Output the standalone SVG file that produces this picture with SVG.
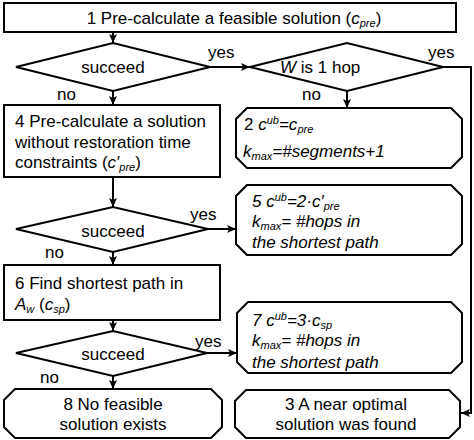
<svg xmlns="http://www.w3.org/2000/svg" width="474" height="440" viewBox="0 0 474 440">
<style>
.b{fill:#fff;stroke:#000;stroke-width:2}
.c{fill:none;stroke:#000;stroke-width:2}
text{font-family:"Liberation Sans",Arial,sans-serif;font-size:17px;fill:#000}
.i{font-style:italic}
.s{font-size:11px}
.m{text-anchor:middle}
</style>
<defs>
<marker id="a" markerUnits="userSpaceOnUse" markerWidth="10" markerHeight="10" refX="9" refY="5" orient="auto">
<path d="M0,1 L9,5 L0,9 L2,5 Z" fill="#000"/>
</marker>
</defs>
<rect width="474" height="440" fill="#fff"/>
<g id="connectors">
<path class="c" d="M113,32 V43" marker-end="url(#a)"/>
<path class="c" d="M210,67 H250" marker-end="url(#a)"/>
<path class="c" d="M443,67 H471 V413 H461" marker-end="url(#a)"/>
<path class="c" d="M113,91 V105" marker-end="url(#a)"/>
<path class="c" d="M347,91 V108" marker-end="url(#a)"/>
<path class="c" d="M113,177 V207" marker-end="url(#a)"/>
<path class="c" d="M208,229 H236" marker-end="url(#a)"/>
<path class="c" d="M113,252 V265" marker-end="url(#a)"/>
<path class="c" d="M113,320 V331" marker-end="url(#a)"/>
<path class="c" d="M207,353 H237" marker-end="url(#a)"/>
<path class="c" d="M113,376 V389" marker-end="url(#a)"/>
<text x="208" y="58">yes</text>
<text x="428" y="58">yes</text>
<text x="57" y="100">no</text>
<text x="302" y="100">no</text>
<text x="190" y="220">yes</text>
<text x="45" y="258">no</text>
<text x="195" y="347">yes</text>
<text x="40" y="383">no</text>
</g>
<g id="n1">
<rect class="b" x="4" y="3" width="452" height="29"/>
<text x="234" y="24" class="m">1 Pre-calculate a feasible solution (<tspan class="i">c</tspan><tspan class="i s" dy="3">pre</tspan><tspan dy="-3">)</tspan></text>
</g>
<g id="d1">
<polygon class="b" points="16,67 113,43 210,67 113,91"/>
<text x="113" y="73" class="m">succeed</text>
</g>
<g id="d2">
<polygon class="b" points="250,67 347,43 443,67 347,91"/>
<text x="280" y="73"><tspan class="i">W</tspan> is 1 hop</text>
</g>
<g id="n4">
<rect class="b" x="4" y="105" width="216" height="72"/>
<text x="15" y="127">4 Pre-calculate a solution</text>
<text x="15" y="148">without restoration time</text>
<text x="15" y="168">constraints  (<tspan class="i">c′</tspan><tspan class="i s" dy="3">pre</tspan><tspan dy="-3">)</tspan></text>
</g>
<g id="n2">
<path class="b" d="M247,108 H451 L462,119 V157 L451,168 H247 L236,157 V119 Z"/>
<text x="244" y="130">2 <tspan class="i">c</tspan><tspan class="i s" dy="-6">ub</tspan><tspan class="i" dy="6">=c</tspan><tspan class="i s" dy="3">pre</tspan></text>
<text x="243" y="157" class="i">k<tspan class="s" dy="3">max</tspan><tspan dy="-3">=#segments+1</tspan></text>
</g>
<g id="d3">
<polygon class="b" points="16,229 113,207 208,229 113,252"/>
<text x="113" y="237" class="m">succeed</text>
</g>
<g id="n5">
<path class="b" d="M247,185 H451 L462,196 V244 L451,255 H247 L236,244 V196 Z"/>
<text x="252" y="207" class="i">5 c<tspan class="s" dy="-6">ub</tspan><tspan dy="6">=2·c′</tspan><tspan class="s" dy="3">pre</tspan></text>
<text x="252" y="227" class="i">k<tspan class="s" dy="3">max</tspan><tspan dy="-3">= #hops in</tspan></text>
<text x="252" y="248" class="i">the shortest path</text>
</g>
<g id="n6">
<rect class="b" x="4" y="265" width="216" height="55"/>
<text x="15" y="289">6  Find shortest path in</text>
<text x="15" y="310"><tspan class="i">A</tspan><tspan class="i s" dy="3">w</tspan><tspan dy="-3">  (</tspan><tspan class="i">c</tspan><tspan class="i s" dy="3">sp</tspan><tspan dy="-3">)</tspan></text>
</g>
<g id="d4">
<polygon class="b" points="16,353 113,331 207,353 113,376"/>
<text x="113" y="360" class="m">succeed</text>
</g>
<g id="n7">
<path class="b" d="M248,302 H451 L462,313 V362 L451,373 H248 L237,362 V313 Z"/>
<text x="252" y="326" class="i">7 c<tspan class="s" dy="-6">ub</tspan><tspan dy="6">=3·c</tspan><tspan class="s" dy="3">sp</tspan></text>
<text x="252" y="346" class="i">k<tspan class="s" dy="3">max</tspan><tspan dy="-3">= #hops in</tspan></text>
<text x="252" y="368" class="i">the shortest path</text>
</g>
<g id="n8">
<path class="b" d="M15,389 H211 L222,400 V427 L211,438 H15 L4,427 V400 Z"/>
<text x="113" y="410" class="m">8 No feasible</text>
<text x="113" y="430" class="m">solution exists</text>
</g>
<g id="n3">
<path class="b" d="M246,390 H449 L460,401 V427 L449,438 H246 L235,427 V401 Z"/>
<text x="346" y="410" class="m">3 A near optimal</text>
<text x="346" y="430" class="m">solution was found</text>
</g>
</svg>
